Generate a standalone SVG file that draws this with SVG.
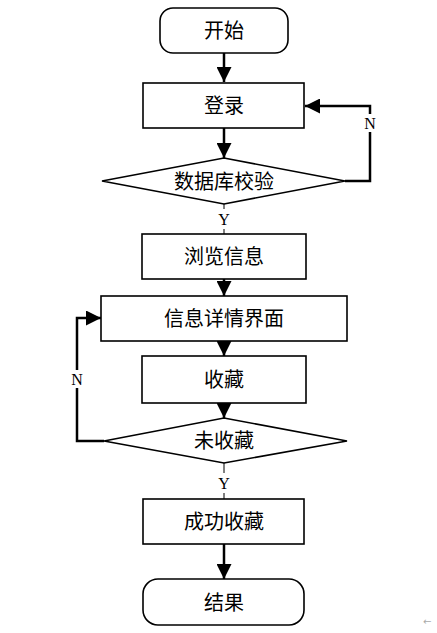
<svg xmlns="http://www.w3.org/2000/svg" width="437" height="633" viewBox="0 0 437 633">
<style>
.box{fill:#fff;stroke:#000;stroke-width:1.6}
.t{font-family:"Liberation Serif","Noto Sans CJK SC",serif;font-size:20px;fill:#000;text-anchor:middle;dominant-baseline:central}
.yn{font-family:"Liberation Serif",serif;font-size:16px;fill:#000;text-anchor:middle;dominant-baseline:central}
.c{fill:none;stroke:#000;stroke-width:2.5}
.thin{fill:none;stroke:#000;stroke-width:1}
</style>
<defs>
<marker id="ah" viewBox="0 0 10 10" refX="10" refY="5" markerWidth="6" markerHeight="6" markerUnits="strokeWidth" orient="auto">
<path d="M0,0 L10,5 L0,10 Z" fill="#000"/>
</marker>
</defs>
<rect width="437" height="633" fill="#fff"/>
<g id="connectors">
<line class="c" x1="224" y1="53" x2="224" y2="82" marker-end="url(#ah)"/>
<line class="c" x1="224" y1="128" x2="224" y2="158" marker-end="url(#ah)"/>
<polyline class="c" points="345,181 370,181 370,106 305,106" marker-end="url(#ah)"/>
<line class="thin" x1="224" y1="204" x2="224" y2="234"/>
<line class="c" x1="224" y1="279" x2="224" y2="296" marker-end="url(#ah)"/>
<line class="c" x1="224" y1="341" x2="224" y2="356" marker-end="url(#ah)"/>
<line class="c" x1="224" y1="403" x2="224" y2="418" marker-end="url(#ah)"/>
<polyline class="c" points="104,441 77,441 77,318 101,318" marker-end="url(#ah)"/>
<line class="thin" x1="224" y1="463" x2="224" y2="499"/>
<line class="c" x1="224" y1="544" x2="224" y2="579" marker-end="url(#ah)"/>
<rect x="362" y="114" width="16" height="18" fill="#fff"/>
<text class="yn" x="370" y="123">N</text>
<rect x="216" y="209" width="16" height="20" fill="#fff"/>
<text class="yn" x="224" y="219">Y</text>
<rect x="69" y="370" width="16" height="18" fill="#fff"/>
<text class="yn" x="77" y="379">N</text>
<rect x="216" y="473" width="16" height="20" fill="#fff"/>
<text class="yn" x="224" y="483">Y</text>
</g>
<g id="start">
<rect class="box" x="160" y="8" width="128" height="45" rx="13"/>
<text class="t" x="224" y="31">开始</text>
</g>
<g id="login">
<rect class="box" x="143" y="83" width="161" height="45"/>
<text class="t" x="224" y="106">登录</text>
</g>
<g id="check">
<polygon class="box" points="102,181 224,158 345,181 224,204"/>
<text class="t" x="224" y="182">数据库校验</text>
</g>
<g id="browse">
<rect class="box" x="142" y="234" width="164" height="45"/>
<text class="t" x="224" y="257">浏览信息</text>
</g>
<g id="detail">
<rect class="box" x="101" y="296" width="246" height="45"/>
<text class="t" x="224" y="319">信息详情界面</text>
</g>
<g id="collect">
<rect class="box" x="142" y="356" width="164" height="47"/>
<text class="t" x="224" y="380">收藏</text>
</g>
<g id="notcollected">
<polygon class="box" points="104,441 224,418 347,441 224,463"/>
<text class="t" x="224" y="441">未收藏</text>
</g>
<g id="success">
<rect class="box" x="143" y="499" width="161" height="45"/>
<text class="t" x="224" y="522">成功收藏</text>
</g>
<g id="end">
<rect class="box" x="143" y="579" width="161" height="46" rx="15"/>
<text class="t" x="224" y="603">结果</text>
</g>
<text x="423" y="625" font-family="DejaVu Sans,sans-serif" font-size="10" fill="#aaa">←</text>
</svg>
